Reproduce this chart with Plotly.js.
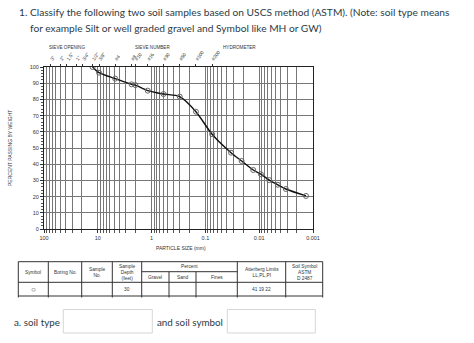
<!DOCTYPE html>
<html>
<head>
<meta charset="utf-8">
<script src="https://cdn.plot.ly/plotly-3.0.1.min.js"></script>
<style>
html,body{margin:0;padding:0;background:#fff;}
#chart{width:474px;height:343px;}
</style>
</head>
<body>
<div id="chart"></div>
<script>
// ---- data ----
const particleSizeMm = [12.5, 9.5, 4.75, 2.36, 2.0, 1.18, 0.6, 0.3, 0.15, 0.075, 0.0334, 0.0212, 0.0129, 0.0093, 0.0065, 0.0045, 0.0032, 0.00135];
const percentPassing = [100, 96.5, 92.8, 89.3, 88.8, 85.4, 83.3, 81.7, 72.4, 58.5, 47.1, 42.0, 36.4, 33.8, 30.2, 27.3, 24.7, 20.4];

const xTickVals = [100, 10, 1, 0.1, 0.01, 0.001];
const xTickText = ["100", "10", "1", "0.1", "0.01", "0.001"];
const yTickVals = [0, 10, 20, 30, 40, 50, 60, 70, 80, 90, 100];

const sieveSizes = [75, 50, 37.5, 25, 19, 12.5, 9.5, 4.75, 2.36, 2.0, 1.18, 0.6, 0.3, 0.15, 0.075];
const sieveLabels = ['3"', '2"', '1.5"', '1"', '3/4"', '1/2"', '3/8"', '#4', '#8', '#10', '#16', '#30', '#50', '#100', '#200'];

const questionLines = [
  "1. Classify the following two soil samples based on USCS method (ASTM). (Note: soil type means",
  "for example Silt or well graded gravel and Symbol like MH or GW)"
];
const headerLabels = ["Symbol", "Boring No.", "Sample<br>No.", "Sample<br>Depth<br>(feet)", "Percent", "Gravel", "Sand", "Fines", "Atterberg Limits<br>LL,PL,PI", "Soil Symbol<br>ASTM<br>D 2487"];
const rowValues = ["○", "", "", "30", "", "", "", "41 19 22", ""];
const answerLabels = ["a. soil type", "and soil symbol"];

// ---- pixel helpers (plot area: x 44..313, y 67..229) ----
const L = 44, R = 313, T = 67, B = 229;
const X = p => (p - L) / (R - L);
const Y = p => (B - p) / (B - T);

// minor grid values for log axis
const minorVals = [];
for (let n = -3; n <= 1; n++) for (let k = 2; k <= 9; k++) minorVals.push(k * Math.pow(10, n));

const gridCol = '#777';
const tickFont = {family: 'Liberation Sans, Arial, sans-serif', size: 5.5, color: '#333'};

const traces = [
  {
    x: particleSizeMm, y: percentPassing, type: 'scatter', mode: 'lines+markers',
    line: {color: '#111', width: 1.4, shape: 'spline', smoothing: 0.8},
    marker: {symbol: 'circle-open', size: 5, color: '#666', line: {width: 1, color: '#666'}},
    hoverinfo: 'x+y'
  },
  {
    x: particleSizeMm, y: percentPassing, xaxis: 'x2', type: 'scatter', mode: 'markers',
    marker: {opacity: 0}, hoverinfo: 'skip'
  }
];

const annotations = [];
const shapes = [];
function txt(text, px, py, size, opts) {
  annotations.push(Object.assign({
    text: text, x: X(px), y: Y(py), xref: 'paper', yref: 'paper', showarrow: false,
    xanchor: 'center', yanchor: 'middle',
    font: {family: 'Liberation Sans, Arial, sans-serif', size: size, color: '#333'}
  }, opts || {}));
}
function line(x0, y0, x1, y1, color, w) {
  shapes.push({type: 'line', xref: 'paper', yref: 'paper', x0: X(x0), y0: Y(y0), x1: X(x1), y1: Y(y1),
    line: {color: color || '#333', width: w || 1}});
}

// question text
const qFont = {family: 'Lato, sans-serif', size: 10.2, color: '#2d3b45'};
txt(questionLines[0], 17, 12, 10.2, {xanchor: 'left', font: qFont});
txt(questionLines[1], 28, 27.5, 10.2, {xanchor: 'left', font: qFont});

// chart labels
txt("SIEVE OPENING", 67, 48, 4.6);
txt("SIEVE NUMBER", 152, 48, 4.6);
txt("HYDROMETER", 239, 48, 4.6);
txt("PERCENT PASSING BY WEIGHT", 10, 148, 5, {textangle: -90});
txt("PARTICLE SIZE (mm)", 181, 248, 5);

// table
const colX = [18.3, 48.3, 81.7, 112.3, 141.7, 169, 196, 237.3, 285.7, 322.7];
const tTop = 261.7, tMid = 271.7, tHead = 282.3, tBot = 296;
line(colX[0], tTop, colX[9], tTop);
line(colX[4], tMid, colX[7], tMid);
line(colX[0], tHead, colX[9], tHead);
line(colX[0], tBot, colX[9], tBot);
colX.forEach((cx, i) => {
  const top = (i === 5 || i === 6) ? tMid : tTop;
  line(cx, top, cx, tBot + 1.5);
});
const cen = i => (colX[i] + colX[i + 1]) / 2;
const hf = 4.8;
txt(headerLabels[0], cen(0), 272, hf);
txt(headerLabels[1], cen(1), 272, hf);
txt(headerLabels[2], cen(2), 272, hf);
txt(headerLabels[3], cen(3), 272, hf);
txt(headerLabels[4], (colX[4] + colX[7]) / 2, 266.7, hf);
txt(headerLabels[5], cen(4), 277.2, hf);
txt(headerLabels[6], cen(5), 277.2, hf);
txt(headerLabels[7], cen(6), 277.2, hf);
txt(headerLabels[8], cen(7), 272, hf);
txt(headerLabels[9], cen(8), 272, hf);
rowValues.forEach((v, i) => { if (v) txt(v, cen(i), 289, i === 0 ? 8 : hf); });

// answer line
const aFont = {family: 'Lato, sans-serif', size: 9.8, color: '#2d3b45'};
txt(answerLabels[0], 12, 322, 9.8, {xanchor: 'left', font: aFont});
txt(answerLabels[1], 155, 322, 9.8, {xanchor: 'left', font: aFont});
[[63.3, 152.3], [227.3, 315.3]].forEach(b => {
  shapes.push({type: 'rect', xref: 'paper', yref: 'paper', x0: X(b[0]), x1: X(b[1]), y0: Y(309.5), y1: Y(333),
    line: {color: '#d6d6d6', width: 1}, fillcolor: 'rgba(0,0,0,0)'});
});

const layout = {
  width: 474, height: 343,
  margin: {l: L, r: 474 - R, t: T, b: 343 - B, pad: 0},
  paper_bgcolor: '#fff', plot_bgcolor: '#fff',
  showlegend: false,
  xaxis: {
    type: 'log', range: [2, -3], tickvals: xTickVals, ticktext: xTickText,
    showgrid: true, gridcolor: gridCol, gridwidth: 1,
    ticks: 'outside', ticklen: 3, tickcolor: '#333', tickfont: tickFont,
    showline: true, linecolor: '#222', linewidth: 1, mirror: true, zeroline: false,
    minor: {tickvals: minorVals, showgrid: true, gridcolor: gridCol, gridwidth: 1, ticks: 'outside', ticklen: 3, tickcolor: '#555'}
  },
  xaxis2: {
    type: 'log', range: [2, -3], overlaying: 'x', side: 'top', anchor: 'y',
    tickvals: sieveSizes, ticktext: sieveLabels, tickangle: -55,
    tickfont: {family: 'Liberation Sans, Arial, sans-serif', size: 4.8, color: '#333'},
    ticks: 'outside', ticklen: 2, tickcolor: '#333', showgrid: false, showline: false, zeroline: false
  },
  yaxis: {
    range: [0, 100], tickvals: yTickVals, showgrid: true, gridcolor: gridCol, gridwidth: 1,
    ticks: 'outside', ticklen: 3, tickcolor: '#333', tickfont: tickFont,
    showline: true, linecolor: '#222', linewidth: 1, mirror: true, zeroline: false,
    minor: {dtick: 2, ticks: 'outside', ticklen: 2, tickcolor: '#555', showgrid: false}
  },
  annotations: annotations,
  shapes: shapes
};

Plotly.newPlot('chart', traces, layout, {staticPlot: true, displayModeBar: false});
</script>
</body>
</html>
